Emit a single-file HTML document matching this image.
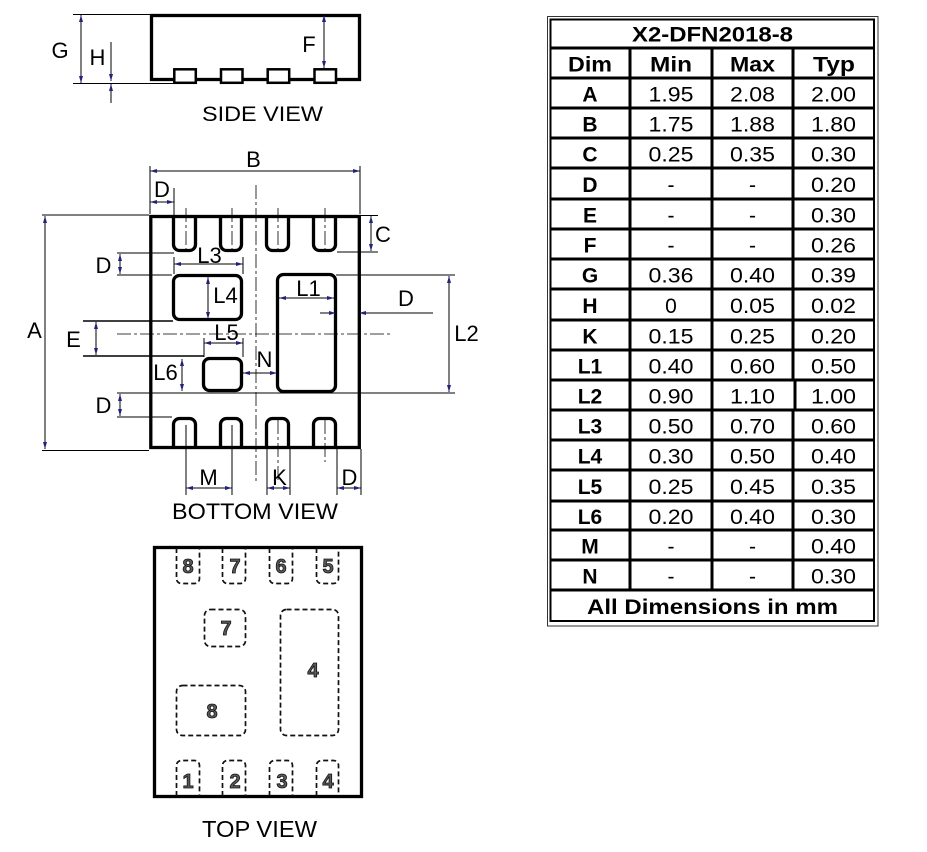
<!DOCTYPE html>
<html><head><meta charset="utf-8"><style>
html,body{margin:0;padding:0;background:#fff;}
svg{display:block;}
.t{font-family:"Liberation Sans",Arial,sans-serif;fill:#000;}
.lb{font-size:22px;text-anchor:middle;}
.th{stroke:#000;stroke-width:3.3;fill:none;}
.d{stroke:#000;stroke-width:1;fill:none;}
.dm{stroke:#000;stroke-width:1;fill:none;marker-start:url(#ar);marker-end:url(#ar);}
.de{stroke:#000;stroke-width:1;fill:none;marker-end:url(#ar);}
.cl{stroke:#000;stroke-width:0.8;fill:none;stroke-dasharray:14 3 3 3;}
.ds{stroke:#111;stroke-width:1.7;fill:none;stroke-dasharray:5 3;}
.tn{font-family:"Liberation Sans",Arial,sans-serif;font-weight:bold;font-size:20px;fill:#5a5a5a;stroke:#111;stroke-width:0.8;text-anchor:middle;}
.tv{font-family:"Liberation Sans",Arial,sans-serif;font-size:21px;fill:#000;text-anchor:middle;}
.tb{font-family:"Liberation Sans",Arial,sans-serif;font-size:21px;font-weight:bold;fill:#000;text-anchor:middle;}
.rl{stroke:#000;stroke-width:3;}
</style></head><body>
<svg width="927" height="852" viewBox="0 0 927 852" xmlns="http://www.w3.org/2000/svg">
<defs>
<marker id="ar" viewBox="0 0 7 4" refX="7" refY="2" markerWidth="7" markerHeight="4" markerUnits="userSpaceOnUse" orient="auto-start-reverse"><path d="M0,0 L7,2 L0,4 z" fill="#22227a"/></marker>
</defs>

<!-- ================= SIDE VIEW ================= -->
<rect x="151.5" y="15.5" width="208" height="64" class="th" stroke-width="3"/>
<rect x="174.3" y="69.3" width="21.5" height="13.5" stroke="#000" stroke-width="2.5" fill="#fff"/>
<rect x="221" y="69.3" width="21.5" height="13.5" stroke="#000" stroke-width="2.5" fill="#fff"/>
<rect x="267.7" y="69.3" width="21.5" height="13.5" stroke="#000" stroke-width="2.5" fill="#fff"/>
<rect x="314.5" y="69.3" width="21.5" height="13.5" stroke="#000" stroke-width="2.5" fill="#fff"/>
<!-- G -->
<line x1="73" y1="14.5" x2="150" y2="14.5" class="d"/>
<line x1="73" y1="83.5" x2="174" y2="83.5" class="d"/>
<line x1="81" y1="15" x2="81" y2="83" class="dm"/>
<text x="60" y="58" class="t lb">G</text>
<!-- H -->
<line x1="111" y1="42" x2="111" y2="81" class="de"/>
<line x1="111" y1="103" x2="111" y2="84" class="de"/>
<text x="97.5" y="65" class="t lb">H</text>
<!-- F -->
<line x1="324" y1="15" x2="324" y2="68" class="dm"/>
<text x="309" y="52" class="t lb">F</text>
<text x="262.5" y="121" class="t" font-size="21" text-anchor="middle" textLength="121" lengthAdjust="spacingAndGlyphs">SIDE VIEW</text>

<!-- ================= BOTTOM VIEW ================= -->
<rect x="150.8" y="216.5" width="208.5" height="231" class="th" stroke-width="3.6"/>
<!-- top pads -->
<path d="M173.5,216 V244.5 A6,6 0 0 0 179.5,250.5 H189.5 A6,6 0 0 0 195.5,244.5 V216" class="th"/>
<path d="M220.5,216 V244.5 A6,6 0 0 0 226.5,250.5 H235.5 A6,6 0 0 0 241.5,244.5 V216" class="th"/>
<path d="M266.5,216 V244.5 A6,6 0 0 0 272.5,250.5 H282.5 A6,6 0 0 0 288.5,244.5 V216" class="th"/>
<path d="M313.5,216 V244.5 A6,6 0 0 0 319.5,250.5 H329.5 A6,6 0 0 0 335.5,244.5 V216" class="th"/>
<!-- bottom pads -->
<path d="M173.5,448 V424.5 A6,6 0 0 1 179.5,418.5 H189.5 A6,6 0 0 1 195.5,424.5 V448" class="th"/>
<path d="M220.5,448 V424.5 A6,6 0 0 1 226.5,418.5 H235.5 A6,6 0 0 1 241.5,424.5 V448" class="th"/>
<path d="M266.5,448 V424.5 A6,6 0 0 1 272.5,418.5 H282.5 A6,6 0 0 1 288.5,424.5 V448" class="th"/>
<path d="M313.5,448 V424.5 A6,6 0 0 1 319.5,418.5 H329.5 A6,6 0 0 1 335.5,424.5 V448" class="th"/>
<!-- center pads -->
<rect x="173.5" y="275.5" width="68" height="44" rx="6" class="th"/>
<rect x="203.5" y="358.5" width="38" height="32" rx="6" class="th"/>
<rect x="277.5" y="274.5" width="58" height="117" rx="6" class="th"/>
<!-- centerlines -->
<line x1="256" y1="185" x2="256" y2="483" class="cl"/>
<line x1="117" y1="334" x2="393" y2="334" class="cl"/>
<line x1="186" y1="208" x2="186" y2="250" class="cl"/>
<line x1="232" y1="208" x2="232" y2="250" class="cl"/>
<line x1="278" y1="208" x2="278" y2="250" class="cl"/>
<line x1="325" y1="208" x2="325" y2="250" class="cl"/>
<line x1="278" y1="420" x2="278" y2="480" class="cl"/>
<line x1="325" y1="420" x2="325" y2="462" class="cl"/>
<!-- B -->
<line x1="150" y1="166" x2="150" y2="214" class="d"/>
<line x1="360" y1="166" x2="360" y2="214" class="d"/>
<line x1="150" y1="171" x2="360" y2="171" class="dm"/>
<text x="253.5" y="167" class="t lb">B</text>
<!-- D top -->
<line x1="174" y1="188" x2="174" y2="215" class="d"/>
<line x1="150" y1="202" x2="174" y2="202" class="dm"/>
<text x="162" y="197" class="t lb">D</text>
<!-- C -->
<line x1="360" y1="215.5" x2="378" y2="215.5" class="d"/>
<line x1="337" y1="252" x2="378" y2="252" class="d"/>
<line x1="371" y1="216" x2="371" y2="251" class="dm"/>
<text x="383" y="242" class="t lb">C</text>
<!-- A -->
<line x1="42" y1="215" x2="149" y2="215" class="d"/>
<line x1="42" y1="450.5" x2="149" y2="450.5" class="d"/>
<line x1="45" y1="216" x2="45" y2="449" class="dm"/>
<text x="34.5" y="338" class="t lb">A</text>
<!-- D left upper -->
<line x1="117" y1="253" x2="174" y2="253" class="d"/>
<line x1="117" y1="275" x2="172" y2="275" class="d"/>
<line x1="120" y1="254" x2="120" y2="274" class="dm"/>
<text x="103.5" y="273" class="t lb">D</text>
<!-- L3 -->
<line x1="174" y1="257" x2="174" y2="274" class="d"/>
<line x1="243" y1="257" x2="243" y2="274" class="d"/>
<line x1="174" y1="264" x2="243" y2="264" class="dm"/>
<text x="209.5" y="263" class="t lb">L3</text>
<!-- L4 -->
<line x1="208" y1="277" x2="208" y2="319" class="dm"/>
<text x="225.5" y="303" class="t lb">L4</text>
<!-- L1 -->
<line x1="279" y1="298" x2="334" y2="298" class="dm"/>
<text x="308.5" y="296" class="t lb">L1</text>
<!-- D right -->
<line x1="320" y1="313" x2="336" y2="313" class="de"/>
<line x1="433" y1="313" x2="359" y2="313" class="de"/>
<text x="406" y="306" class="t lb">D</text>
<!-- L2 -->
<line x1="336" y1="275" x2="455" y2="275" class="d"/>
<line x1="117" y1="393" x2="455" y2="393" class="d"/>
<line x1="449" y1="276" x2="449" y2="392" class="dm"/>
<text x="466.5" y="341" class="t lb">L2</text>
<!-- E -->
<line x1="83" y1="321" x2="173" y2="321" stroke="#000" stroke-width="1.6"/>
<line x1="83" y1="356" x2="204" y2="356" stroke="#000" stroke-width="1.6"/>
<line x1="96" y1="322" x2="96" y2="355" class="dm"/>
<text x="73.5" y="347" class="t lb">E</text>
<!-- L5 -->
<line x1="204" y1="338" x2="204" y2="357" class="d"/>
<line x1="243" y1="338" x2="243" y2="357" class="d"/>
<line x1="204" y1="343" x2="243" y2="343" class="dm"/>
<text x="226.5" y="340" class="t lb">L5</text>
<!-- L6 -->
<line x1="182" y1="359" x2="182" y2="391" class="dm"/>
<text x="165.5" y="380" class="t lb">L6</text>
<!-- N -->
<line x1="243" y1="373" x2="277" y2="373" class="dm"/>
<text x="264.5" y="367" class="t lb">N</text>
<!-- D lower left -->
<line x1="117" y1="417" x2="172" y2="417" class="d"/>
<line x1="120" y1="394" x2="120" y2="416" class="dm"/>
<text x="103.5" y="413" class="t lb">D</text>
<!-- M / K / D bottom -->
<line x1="186" y1="425" x2="186" y2="495" class="d"/>
<line x1="232" y1="425" x2="232" y2="495" class="d"/>
<line x1="186" y1="488" x2="232" y2="488" class="dm"/>
<text x="208.5" y="485" class="t lb">M</text>
<line x1="267" y1="449" x2="267" y2="495" class="d"/>
<line x1="290" y1="449" x2="290" y2="495" class="d"/>
<line x1="267" y1="488" x2="290" y2="488" class="dm"/>
<text x="279.5" y="485" class="t lb">K</text>
<line x1="337" y1="449" x2="337" y2="495" class="d"/>
<line x1="361" y1="449" x2="361" y2="495" class="d"/>
<line x1="337" y1="488" x2="361" y2="488" class="dm"/>
<text x="349.5" y="485" class="t lb">D</text>
<text x="255" y="519" class="t" font-size="22" text-anchor="middle" textLength="166" lengthAdjust="spacingAndGlyphs">BOTTOM VIEW</text>

<!-- ================= TOP VIEW ================= -->
<rect x="154.5" y="547.5" width="207" height="249" class="th"/>
<path d="M176.5,548 V578 A5,5 0 0 0 181.5,583.5 H194.5 A5,5 0 0 0 199.5,578 V548" class="ds"/>
<path d="M222.5,548 V578 A5,5 0 0 0 227.5,583.5 H240.5 A5,5 0 0 0 245.5,578 V548" class="ds"/>
<path d="M269.5,548 V578 A5,5 0 0 0 274.5,583.5 H287.5 A5,5 0 0 0 292.5,578 V548" class="ds"/>
<path d="M316.5,548 V578 A5,5 0 0 0 321.5,583.5 H333.5 A5,5 0 0 0 338.5,578 V548" class="ds"/>
<path d="M176.5,796 V766 A5,5 0 0 1 181.5,760.5 H194.5 A5,5 0 0 1 199.5,766 V796" class="ds"/>
<path d="M222.5,796 V766 A5,5 0 0 1 227.5,760.5 H240.5 A5,5 0 0 1 245.5,766 V796" class="ds"/>
<path d="M269.5,796 V766 A5,5 0 0 1 274.5,760.5 H287.5 A5,5 0 0 1 292.5,766 V796" class="ds"/>
<path d="M316.5,796 V766 A5,5 0 0 1 321.5,760.5 H333.5 A5,5 0 0 1 338.5,766 V796" class="ds"/>
<rect x="204.5" y="609.5" width="41" height="37" rx="6" class="ds"/>
<rect x="176.5" y="685.5" width="69" height="50" rx="6" class="ds"/>
<rect x="280.5" y="609.5" width="58" height="126" rx="6" class="ds"/>
<text x="188" y="573" class="tn">8</text>
<text x="235" y="573" class="tn">7</text>
<text x="281" y="573" class="tn">6</text>
<text x="328" y="573" class="tn">5</text>
<text x="226" y="635" class="tn">7</text>
<text x="212" y="718" class="tn">8</text>
<text x="313" y="677" class="tn">4</text>
<text x="188" y="788" class="tn">1</text>
<text x="235" y="788" class="tn">2</text>
<text x="282" y="788" class="tn">3</text>
<text x="328" y="788" class="tn">4</text>
<text x="259.5" y="837" class="t" font-size="23" text-anchor="middle" textLength="115" lengthAdjust="spacingAndGlyphs">TOP VIEW</text>

<!-- ================= TABLE ================= -->
<rect x="547.5" y="16.5" width="330.5" height="609.5" fill="none" stroke="#333" stroke-width="1"/>
<rect x="550.5" y="19.5" width="323.5" height="601.5" fill="none" stroke="#000" stroke-width="2"/>
<g class="rl">
<line x1="551" y1="48" x2="874" y2="48"/>
<line x1="551" y1="78" x2="874" y2="78"/>
<line x1="551" y1="108" x2="874" y2="108"/>
<line x1="551" y1="138" x2="874" y2="138"/>
<line x1="551" y1="168" x2="874" y2="168"/>
<line x1="551" y1="199" x2="874" y2="199"/>
<line x1="551" y1="229" x2="874" y2="229"/>
<line x1="551" y1="259" x2="874" y2="259"/>
<line x1="551" y1="289" x2="874" y2="289"/>
<line x1="551" y1="320" x2="874" y2="320"/>
<line x1="551" y1="350" x2="874" y2="350"/>
<line x1="551" y1="380" x2="874" y2="380"/>
<line x1="551" y1="410" x2="874" y2="410"/>
<line x1="551" y1="440" x2="874" y2="440"/>
<line x1="551" y1="470" x2="874" y2="470"/>
<line x1="551" y1="501" x2="874" y2="501"/>
<line x1="551" y1="530" x2="874" y2="530"/>
<line x1="551" y1="560" x2="874" y2="560"/>
<line x1="551" y1="590" x2="874" y2="590"/>
<line x1="630" y1="48" x2="630" y2="590"/>
<line x1="712" y1="48" x2="712" y2="590"/>
<line x1="793" y1="48" x2="793" y2="380"/>
<line x1="795" y1="380" x2="795" y2="410"/>
<line x1="793" y1="410" x2="793" y2="590"/>
</g>
<text x="712.5" y="41.5" class="tb" textLength="161" lengthAdjust="spacingAndGlyphs">X2-DFN2018-8</text>
<text x="590" y="71.5" class="tb" textLength="44" lengthAdjust="spacingAndGlyphs">Dim</text>
<text x="671" y="71.5" class="tb" textLength="42" lengthAdjust="spacingAndGlyphs">Min</text>
<text x="752.5" y="71.5" class="tb" textLength="45" lengthAdjust="spacingAndGlyphs">Max</text>
<text x="834" y="71.5" class="tb" textLength="42" lengthAdjust="spacingAndGlyphs">Typ</text>

<text x="590" y="101.5" class="tb">A</text><text x="671" y="101.5" class="tv" textLength="45" lengthAdjust="spacingAndGlyphs">1.95</text><text x="752.5" y="101.5" class="tv" textLength="45" lengthAdjust="spacingAndGlyphs">2.08</text><text x="833.5" y="101.5" class="tv" textLength="45" lengthAdjust="spacingAndGlyphs">2.00</text>
<text x="590" y="131.5" class="tb">B</text><text x="671" y="131.5" class="tv" textLength="45" lengthAdjust="spacingAndGlyphs">1.75</text><text x="752.5" y="131.5" class="tv" textLength="45" lengthAdjust="spacingAndGlyphs">1.88</text><text x="833.5" y="131.5" class="tv" textLength="45" lengthAdjust="spacingAndGlyphs">1.80</text>
<text x="590" y="161.5" class="tb">C</text><text x="671" y="161.5" class="tv" textLength="45" lengthAdjust="spacingAndGlyphs">0.25</text><text x="752.5" y="161.5" class="tv" textLength="45" lengthAdjust="spacingAndGlyphs">0.35</text><text x="833.5" y="161.5" class="tv" textLength="45" lengthAdjust="spacingAndGlyphs">0.30</text>
<text x="590" y="192" class="tb">D</text><text x="671" y="192" class="tv">-</text><text x="752.5" y="192" class="tv">-</text><text x="833.5" y="192" class="tv" textLength="45" lengthAdjust="spacingAndGlyphs">0.20</text>
<text x="590" y="222.5" class="tb">E</text><text x="671" y="222.5" class="tv">-</text><text x="752.5" y="222.5" class="tv">-</text><text x="833.5" y="222.5" class="tv" textLength="45" lengthAdjust="spacingAndGlyphs">0.30</text>
<text x="590" y="252.5" class="tb">F</text><text x="671" y="252.5" class="tv">-</text><text x="752.5" y="252.5" class="tv">-</text><text x="833.5" y="252.5" class="tv" textLength="45" lengthAdjust="spacingAndGlyphs">0.26</text>
<text x="590" y="282.5" class="tb">G</text><text x="671" y="282.5" class="tv" textLength="45" lengthAdjust="spacingAndGlyphs">0.36</text><text x="752.5" y="282.5" class="tv" textLength="45" lengthAdjust="spacingAndGlyphs">0.40</text><text x="833.5" y="282.5" class="tv" textLength="45" lengthAdjust="spacingAndGlyphs">0.39</text>
<text x="590" y="313" class="tb">H</text><text x="671" y="313" class="tv">0</text><text x="752.5" y="313" class="tv" textLength="45" lengthAdjust="spacingAndGlyphs">0.05</text><text x="833.5" y="313" class="tv" textLength="45" lengthAdjust="spacingAndGlyphs">0.02</text>
<text x="590" y="343.5" class="tb">K</text><text x="671" y="343.5" class="tv" textLength="45" lengthAdjust="spacingAndGlyphs">0.15</text><text x="752.5" y="343.5" class="tv" textLength="45" lengthAdjust="spacingAndGlyphs">0.25</text><text x="833.5" y="343.5" class="tv" textLength="45" lengthAdjust="spacingAndGlyphs">0.20</text>
<text x="590" y="373.5" class="tb">L1</text><text x="671" y="373.5" class="tv" textLength="45" lengthAdjust="spacingAndGlyphs">0.40</text><text x="752.5" y="373.5" class="tv" textLength="45" lengthAdjust="spacingAndGlyphs">0.60</text><text x="833.5" y="373.5" class="tv" textLength="45" lengthAdjust="spacingAndGlyphs">0.50</text>
<text x="590" y="403.5" class="tb">L2</text><text x="671" y="403.5" class="tv" textLength="45" lengthAdjust="spacingAndGlyphs">0.90</text><text x="752.5" y="403.5" class="tv" textLength="45" lengthAdjust="spacingAndGlyphs">1.10</text><text x="833.5" y="403.5" class="tv" textLength="45" lengthAdjust="spacingAndGlyphs">1.00</text>
<text x="590" y="433.5" class="tb">L3</text><text x="671" y="433.5" class="tv" textLength="45" lengthAdjust="spacingAndGlyphs">0.50</text><text x="752.5" y="433.5" class="tv" textLength="45" lengthAdjust="spacingAndGlyphs">0.70</text><text x="833.5" y="433.5" class="tv" textLength="45" lengthAdjust="spacingAndGlyphs">0.60</text>
<text x="590" y="463.5" class="tb">L4</text><text x="671" y="463.5" class="tv" textLength="45" lengthAdjust="spacingAndGlyphs">0.30</text><text x="752.5" y="463.5" class="tv" textLength="45" lengthAdjust="spacingAndGlyphs">0.50</text><text x="833.5" y="463.5" class="tv" textLength="45" lengthAdjust="spacingAndGlyphs">0.40</text>
<text x="590" y="494" class="tb">L5</text><text x="671" y="494" class="tv" textLength="45" lengthAdjust="spacingAndGlyphs">0.25</text><text x="752.5" y="494" class="tv" textLength="45" lengthAdjust="spacingAndGlyphs">0.45</text><text x="833.5" y="494" class="tv" textLength="45" lengthAdjust="spacingAndGlyphs">0.35</text>
<text x="590" y="524" class="tb">L6</text><text x="671" y="524" class="tv" textLength="45" lengthAdjust="spacingAndGlyphs">0.20</text><text x="752.5" y="524" class="tv" textLength="45" lengthAdjust="spacingAndGlyphs">0.40</text><text x="833.5" y="524" class="tv" textLength="45" lengthAdjust="spacingAndGlyphs">0.30</text>
<text x="590" y="553.5" class="tb">M</text><text x="671" y="553.5" class="tv">-</text><text x="752.5" y="553.5" class="tv">-</text><text x="833.5" y="553.5" class="tv" textLength="45" lengthAdjust="spacingAndGlyphs">0.40</text>
<text x="590" y="583.5" class="tb">N</text><text x="671" y="583.5" class="tv">-</text><text x="752.5" y="583.5" class="tv">-</text><text x="833.5" y="583.5" class="tv" textLength="45" lengthAdjust="spacingAndGlyphs">0.30</text>
<text x="712.5" y="614" class="tb" textLength="251" lengthAdjust="spacingAndGlyphs">All Dimensions in mm</text>
</svg>
</body></html>
